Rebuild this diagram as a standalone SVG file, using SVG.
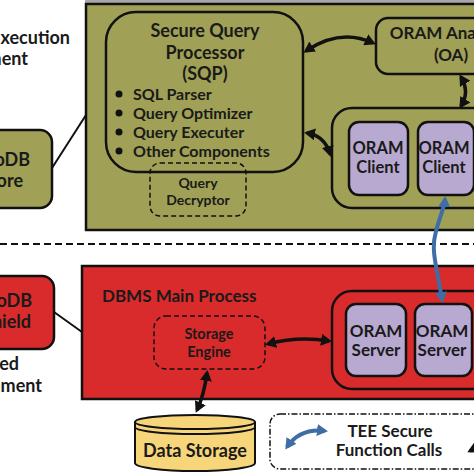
<svg xmlns="http://www.w3.org/2000/svg" width="474" height="474" viewBox="0 0 474 474">
<defs>
<style>
.t{font-family:Lato,"Liberation Sans",sans-serif;font-weight:700;fill:#1a1a1a}
.g{fill:#a0a056;stroke:#111;stroke-width:2.5}
.r{fill:#d92b2b;stroke:#111;stroke-width:2.5}
.p{fill:#b8a9d1;stroke:#111;stroke-width:2.5}
.dash{fill:none;stroke:#111;stroke-width:1.5;stroke-dasharray:5 3}
.arr{fill:none;stroke:#111;stroke-width:3.5;marker-start:url(#ah);marker-end:url(#ah)}
.barr{fill:none;stroke:#3e6ea5;stroke-width:4;marker-start:url(#bh);marker-end:url(#bh)}
.ln{stroke:#111;stroke-width:2;fill:none}
</style>
<marker id="ah" markerUnits="userSpaceOnUse" markerWidth="12" markerHeight="12" refX="8" refY="6" orient="auto-start-reverse"><path d="M0,0 L11,6 L0,12 z" fill="#111"/></marker>
<marker id="bh" markerUnits="userSpaceOnUse" markerWidth="12" markerHeight="12" refX="8" refY="6" orient="auto-start-reverse"><path d="M0,0 L11,6 L0,12 z" fill="#3e6ea5"/></marker>
</defs>
<rect x="85" y="0" width="389" height="3" fill="#a8a8a8"/>
<g id="trusted-env">
<rect class="g" x="86" y="4" width="400" height="226"/>
</g>
<g id="sqp">
<rect class="g" x="106" y="12" width="197" height="160" rx="30"/>
<text class="t" font-size="18" x="205" y="37" text-anchor="middle">Secure Query</text>
<text class="t" font-size="18" x="205" y="59" text-anchor="middle">Processor</text>
<text class="t" font-size="18" x="205" y="80" text-anchor="middle">(SQP)</text>
<circle cx="119" cy="94" r="3.5" fill="#111"/>
<circle cx="119" cy="113" r="3.5" fill="#111"/>
<circle cx="119" cy="132" r="3.5" fill="#111"/>
<circle cx="119" cy="151" r="3.5" fill="#111"/>
<text class="t" font-size="16" x="133" y="100">SQL Parser</text>
<text class="t" font-size="16" x="133" y="119">Query Optimizer</text>
<text class="t" font-size="16" x="133" y="138">Query Executer</text>
<text class="t" font-size="16" x="133" y="157">Other Components</text>
</g>
<g id="query-decryptor">
<rect class="dash" x="150" y="163" width="96" height="53" rx="10"/>
<text class="t" font-size="14" x="198" y="188" text-anchor="middle">Query</text>
<text class="t" font-size="14" x="198" y="205" text-anchor="middle">Decryptor</text>
</g>
<g id="oa">
<rect class="g" x="376" y="18" width="152" height="56" rx="12"/>
<text class="t" font-size="17" x="451" y="39" text-anchor="middle">ORAM Analyzer</text>
<text class="t" font-size="17" x="451" y="61" text-anchor="middle">(OA)</text>
</g>
<g id="client-container">
<rect class="g" x="332" y="108" width="170" height="100" rx="20"/>
</g>
<g id="client1">
<rect class="p" x="349" y="122" width="59" height="73" rx="10"/>
<text class="t" font-size="16.5" x="378" y="154" text-anchor="middle">ORAM</text>
<text class="t" font-size="16.5" x="378" y="173" text-anchor="middle">Client</text>
</g>
<g id="client2">
<rect class="p" x="418" y="122" width="56" height="73" rx="10"/>
<text class="t" font-size="16.5" x="444" y="154" text-anchor="middle">ORAM</text>
<text class="t" font-size="16.5" x="444" y="173" text-anchor="middle">Client</text>
</g>
<g id="core-green">
<rect class="g" x="-20" y="130" width="72" height="78" rx="12"/>
<text class="t" font-size="18" x="30" y="166" text-anchor="end">oDB</text>
<text class="t" font-size="18" x="23" y="187" text-anchor="end">ore</text>
</g>
<g id="label-trusted">
<text class="t" font-size="18" x="70" y="44" text-anchor="end">xecution</text>
<text class="t" font-size="18" x="28" y="65" text-anchor="end">ment</text>
</g>
<g id="dbms">
<rect class="r" x="82" y="266" width="400" height="133"/>
<text class="t" font-size="17" x="102" y="302">DBMS Main Process</text>
</g>
<g id="storage-engine">
<rect class="dash" x="154" y="316" width="111" height="53" rx="12"/>
<text class="t" font-size="14.5" x="209" y="339" text-anchor="middle">Storage</text>
<text class="t" font-size="14.5" x="209" y="357" text-anchor="middle">Engine</text>
</g>
<g id="server-container">
<rect class="r" x="332" y="291" width="170" height="98" rx="20"/>
</g>
<g id="server1">
<rect class="p" x="346" y="304" width="60" height="72" rx="10"/>
<text class="t" font-size="17" x="376" y="337" text-anchor="middle">ORAM</text>
<text class="t" font-size="17" x="376" y="356" text-anchor="middle">Server</text>
</g>
<g id="server2">
<rect class="p" x="415" y="304" width="57" height="72" rx="10"/>
<text class="t" font-size="17" x="442" y="337" text-anchor="middle">ORAM</text>
<text class="t" font-size="17" x="442" y="356" text-anchor="middle">Server</text>
</g>
<g id="core-red">
<rect class="r" x="-20" y="276" width="74" height="73" rx="12"/>
<text class="t" font-size="18" x="32" y="307" text-anchor="end">oDB</text>
<text class="t" font-size="18" x="31" y="328" text-anchor="end">hield</text>
</g>
<g id="label-untrusted">
<text class="t" font-size="18" x="19" y="370" text-anchor="end">ed</text>
<text class="t" font-size="18" x="42" y="392" text-anchor="end">ment</text>
</g>
<g id="data-storage">
<path d="M135,422 L135,463 A60,8 0 0 0 255,463 L255,422" fill="#f7d57a" stroke="#111" stroke-width="2"/>
<ellipse cx="195" cy="422" rx="60" ry="7" fill="#f7d57a" stroke="#111" stroke-width="2"/>
<path d="M135,427 A60,7 0 0 0 255,427" fill="none" stroke="#111" stroke-width="2"/>
<text class="t" font-size="18" x="195" y="457" text-anchor="middle" fill="#2a2a2a">Data Storage</text>
</g>
<g id="legend">
<rect x="270" y="414" width="220" height="55" rx="10" fill="#fff" stroke="#111" stroke-width="1.5" stroke-dasharray="6 2 1.5 2"/>
<path class="barr" d="M287,447 Q300,428 325,431"/>
<text class="t" font-size="17" x="390" y="437" text-anchor="middle">TEE Secure</text>
<text class="t" font-size="17" x="389" y="456" text-anchor="middle">Function Calls</text>
<path d="M480,446 L470,451" stroke="#111" stroke-width="3.5" marker-end="url(#ah)"/>
</g>
<g id="connectors">
<line class="ln" x1="52" y1="168" x2="86" y2="115"/>
<line class="ln" x1="54" y1="312" x2="82" y2="332"/>
<line x1="0" y1="244" x2="474" y2="244" stroke="#111" stroke-width="2" stroke-dasharray="7 4"/>
<path class="arr" d="M306,51 Q340,28 373,43"/>
<path class="arr" d="M307,133 Q325,136 330,154"/>
<path class="arr" d="M461,77 Q470,92 461,106"/>
<path class="arr" d="M268,344 Q298,336 329,341"/>
<path class="arr" d="M207,373 Q204,395 197,410"/>
<path class="barr" d="M442,300 C438,272 431,252 435,236 C438,220 444,210 445,199"/>
</g>
</svg>
